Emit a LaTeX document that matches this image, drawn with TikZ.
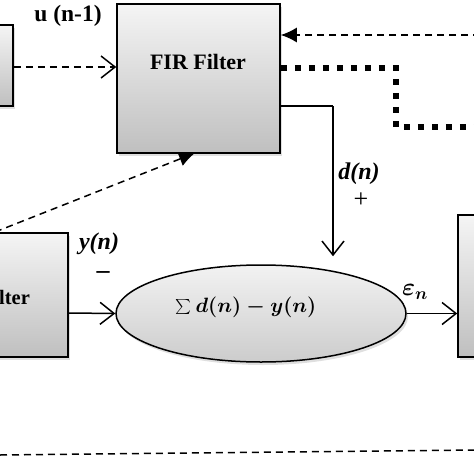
\documentclass[tikz,border=0pt]{standalone}
\usepackage{fontspec}
\setmainfont{Liberation Serif}
\usetikzlibrary{arrows.meta,shadows,shapes.geometric}
\newcommand{\mysumtext}{{\boldmath$\vcenter{\hbox{\scalebox{1.5}{$\sum$}}}\, d(n)-y(n)$}}
\newcommand{\myepstext}{{\boldmath$\varepsilon_n$}}
\tikzset{
  blk/.style={draw=black, line width=1.5pt, rectangle, top color=gray!8, bottom color=gray!50,
    drop shadow={shadow xshift=2pt, shadow yshift=-3pt, opacity=0.25}, inner sep=0pt},
  ell/.style={draw=black, line width=1.5pt, ellipse, top color=gray!10, bottom color=gray!40,
    drop shadow={shadow xshift=2pt, shadow yshift=-3pt, opacity=0.25}, inner sep=0pt},
  openarr/.style={line width=1.5pt, -{Straight Barb[length=14pt,width=22pt,line width=1.5pt]}},
  fillarr/.style={line width=1.5pt, dash pattern=on 7pt off 5pt, -{Latex[length=16pt,width=15pt]}},
  dsh/.style={line width=1.5pt, dash pattern=on 7pt off 5pt},
  thickdot/.style={line width=6pt, dash pattern=on 6pt off 8pt},
  lbl/.style={font={\fontsize{22}{26}\selectfont\bfseries}, inner sep=0pt},
  ulbls/.style={font={\fontsize{23.5}{27}\selectfont\bfseries}, inner sep=0pt},
  ilbl/.style={font={\fontsize{24}{28}\selectfont\bfseries\itshape}, inner sep=0pt},
  mlbl/.style={font={\fontsize{20.5}{24}\selectfont}, inner sep=0pt},
  elbls/.style={font={\fontsize{24}{28}\selectfont}, inner sep=0pt},
  slbl/.style={font={\fontsize{26}{28}\selectfont\bfseries}, inner sep=0pt},
}
\begin{document}
\begin{tikzpicture}[x=1pt,y=-1pt]
\useasboundingbox (0,0) rectangle (474,474);
% boxes
\node[blk, minimum width=53pt, minimum height=81pt] (lt) at (-13.5,65.5) {};
\node[blk, minimum width=163pt, minimum height=149pt] (fir) at (198.5,78.5) {};
\node[lbl] (firtxt) at (198,62) {FIR Filter};
\node[blk, minimum width=108pt, minimum height=124pt] (lb) at (14,295) {};
\node[lbl, anchor=west, font={\fontsize{20.5}{24}\selectfont\bfseries}] (lbtxt) at (-1,297) {lter};
\node[blk, minimum width=60pt, minimum height=142pt] (rb) at (488,286) {};
\node[ell, minimum width=290pt, minimum height=97pt] (sum) at (261,313.5) {};
\node[mlbl] (sumtxt) at (246,307) {\mysumtext};

% coordinates
\coordinate (fbR) at (480,35);
\coordinate (dotA) at (396,68);
\coordinate (dotB) at (396,127);
\coordinate (dotR) at (480,127);
\coordinate (dn) at (333,106);
\coordinate (bl1) at (-5,232);
\coordinate (firbot) at (195,153);
\coordinate (bdL) at (0,455);
\coordinate (bdR) at (474,450);
\coordinate (uy) at (0,67);
\coordinate (yy) at (0,313);

% connectors
\draw[openarr, dash pattern=on 7pt off 5pt] (lt.east |- uy) -- (fir.west |- uy);
\node[ulbls] (ulbl) at (68,16) {u (n-1)};
\draw[fillarr] (fbR) -- (fir.east |- fbR);
\draw[thickdot] (fir.east |- dotA) -- (dotA) -- (dotB) -- (dotR);
\draw[line width=1.5pt] (fir.east |- dn) -- (dn);
\draw[openarr, shorten >=8pt] (dn) -- (sum.north -| dn);
\node[ilbl] (dlbl) at (359,174) {d(n)};
\node[slbl, font={\fontsize{26}{28}\selectfont}] (plus) at (361,200) {+};
\draw[fillarr] (bl1) -- (firbot);
\draw[openarr] (lb.east |- yy) -- (sum.west);
\node[ilbl] (ylbl) at (99,244) {y(n)};
\node[slbl] (minus) at (103,275) {\textendash};
\draw[openarr] (sum.east) -- (rb.west |- sum.east);
\node[elbls] (elbl) at (415,292) {\myepstext};
\draw[dsh] (bdL) -- (bdR);
\end{tikzpicture}
\end{document}
